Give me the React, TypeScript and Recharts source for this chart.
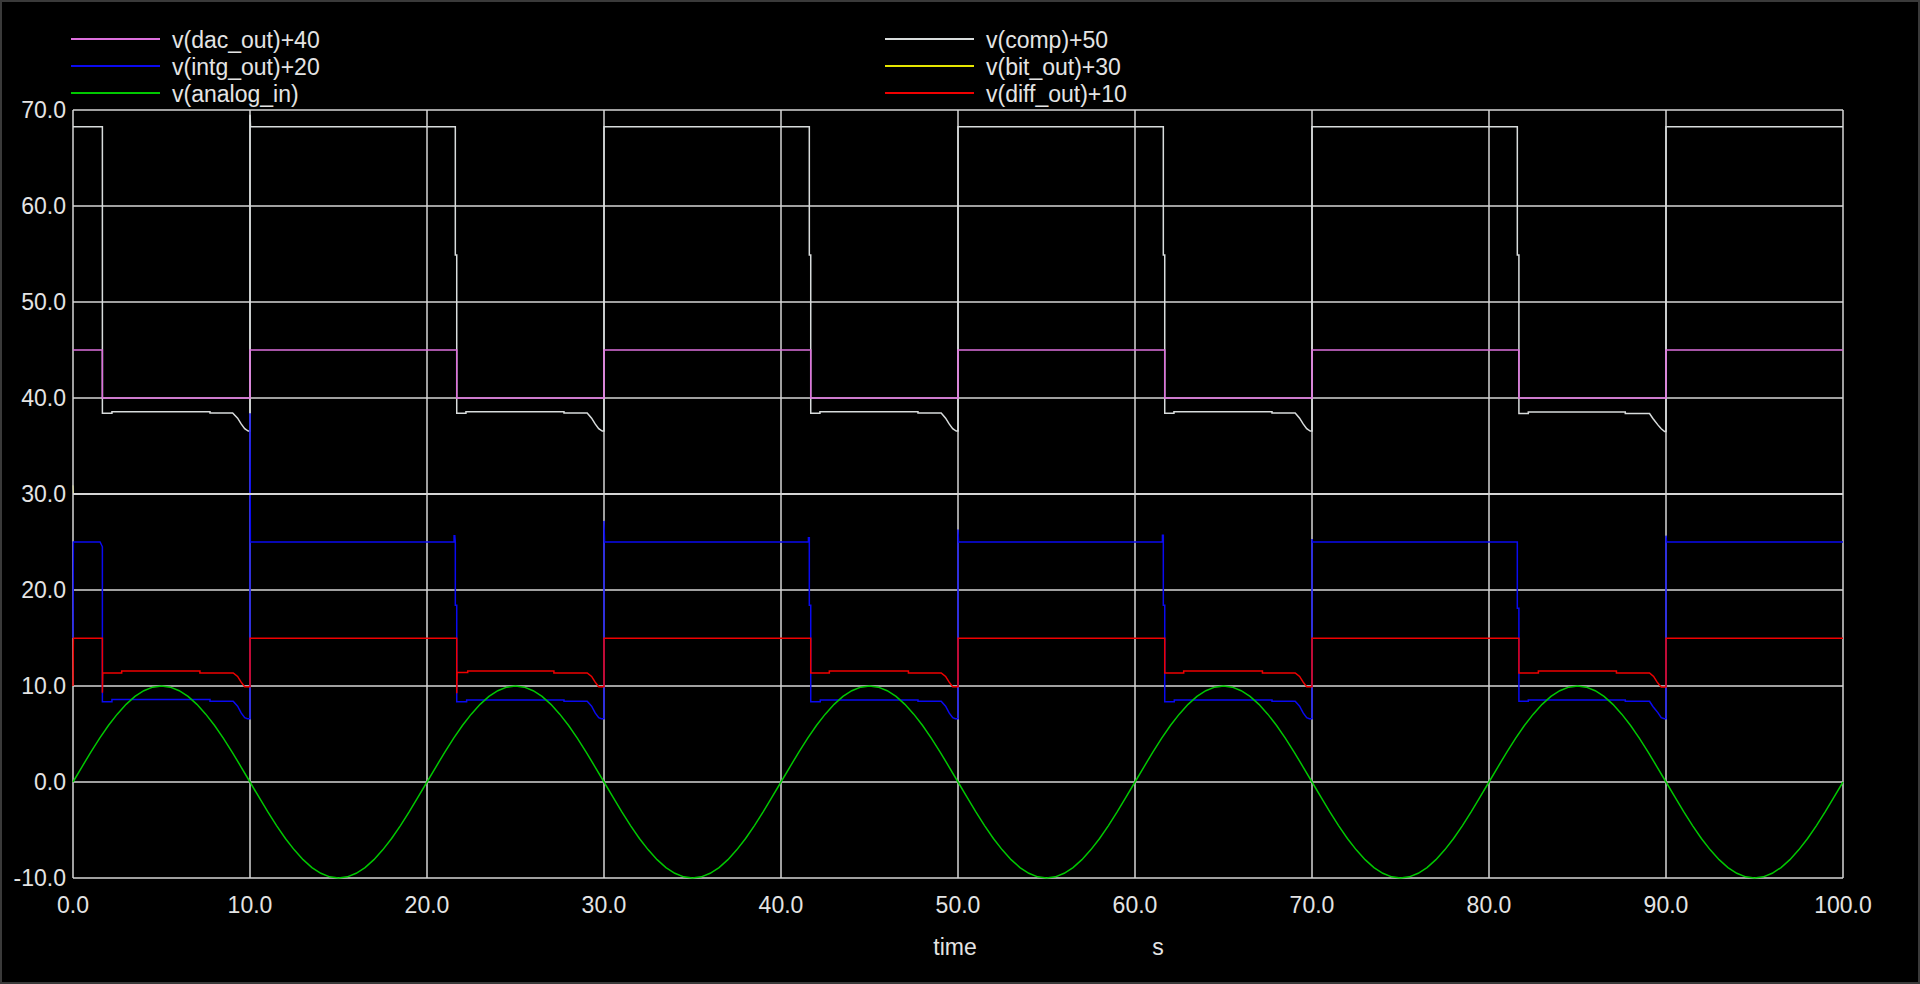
import React from 'react';
import { LineChart, Line, XAxis, YAxis, CartesianGrid, Legend, ReferenceLine } from 'recharts';

// time axis ticks (s) and voltage ticks
const xTicks = [0, 10, 20, 30, 40, 50, 60, 70, 80, 90, 100];
const yTicks = [-10, 0, 10, 20, 30, 40, 50, 60, 70];

// v(analog_in), sampled every 0.5 s
const analogStep = 0.5;
const analogIn = [
  0, 1.56, 3.09, 4.54, 5.88, 7.07, 8.09, 8.91, 9.51, 9.88, 10, 9.88, 9.51, 8.91, 8.09, 7.07, 5.88, 4.54, 3.09, 1.56,
  0, -1.56, -3.09, -4.54, -5.88, -7.07, -8.09, -8.91, -9.51, -9.88, -10, -9.88, -9.51, -8.91, -8.09, -7.07, -5.88, -4.54, -3.09, -1.56,
  0, 1.56, 3.09, 4.54, 5.88, 7.07, 8.09, 8.91, 9.51, 9.88, 10, 9.88, 9.51, 8.91, 8.09, 7.07, 5.88, 4.54, 3.09, 1.56,
  0, -1.56, -3.09, -4.54, -5.88, -7.07, -8.09, -8.91, -9.51, -9.88, -10, -9.88, -9.51, -8.91, -8.09, -7.07, -5.88, -4.54, -3.09, -1.56,
  0, 1.56, 3.09, 4.54, 5.88, 7.07, 8.09, 8.91, 9.51, 9.88, 10, 9.88, 9.51, 8.91, 8.09, 7.07, 5.88, 4.54, 3.09, 1.56,
  0, -1.56, -3.09, -4.54, -5.88, -7.07, -8.09, -8.91, -9.51, -9.88, -10, -9.88, -9.51, -8.91, -8.09, -7.07, -5.88, -4.54, -3.09, -1.56,
  0, 1.56, 3.09, 4.54, 5.88, 7.07, 8.09, 8.91, 9.51, 9.88, 10, 9.88, 9.51, 8.91, 8.09, 7.07, 5.88, 4.54, 3.09, 1.56,
  0, -1.56, -3.09, -4.54, -5.88, -7.07, -8.09, -8.91, -9.51, -9.88, -10, -9.88, -9.51, -8.91, -8.09, -7.07, -5.88, -4.54, -3.09, -1.56,
  0, 1.56, 3.09, 4.54, 5.88, 7.07, 8.09, 8.91, 9.51, 9.88, 10, 9.88, 9.51, 8.91, 8.09, 7.07, 5.88, 4.54, 3.09, 1.56,
  0, -1.56, -3.09, -4.54, -5.88, -7.07, -8.09, -8.91, -9.51, -9.88, -10, -9.88, -9.51, -8.91, -8.09, -7.07, -5.88, -4.54, -3.09, -1.56,
  0,
];

// [time, value] pairs
const dacOut = [
  [0, 45], [1.66, 45], [1.66, 40], [10, 40], [10, 45],
  [21.68, 45], [21.68, 40], [30, 40], [30, 45],
  [41.68, 45], [41.68, 40], [50, 40], [50, 45],
  [61.68, 45], [61.68, 40], [70, 40], [70, 45],
  [81.69, 45], [81.69, 40], [90, 40], [90, 45], [100, 45],
];

const compOut = [
  [0, 68.26], [1.66, 68.26], [1.66, 38.4], [2.2, 38.4], [2.2, 38.57], [7.74, 38.57], [7.74, 38.44], [9.02, 38.44],
  [9.3, 37.9], [9.5, 37.3], [9.7, 36.8], [9.9, 36.56], [10, 36.56], [10, 69.5], [10.03, 68.26],
  [21.6, 68.26], [21.6, 54.9], [21.68, 54.9], [21.68, 38.4], [22.2, 38.4], [22.2, 38.57], [27.74, 38.57], [27.74, 38.44], [29.05, 38.44],
  [29.3, 37.9], [29.5, 37.3], [29.7, 36.8], [29.9, 36.56], [30, 36.56], [30, 68.26],
  [41.6, 68.26], [41.6, 54.9], [41.68, 54.9], [41.68, 38.4], [42.2, 38.4], [42.2, 38.57], [47.74, 38.57], [47.74, 38.44], [49.05, 38.44],
  [49.3, 37.9], [49.5, 37.3], [49.7, 36.8], [49.9, 36.56], [50, 36.56], [50, 68.26],
  [61.6, 68.26], [61.6, 54.9], [61.68, 54.9], [61.68, 38.4], [62.2, 38.4], [62.2, 38.57], [67.74, 38.57], [67.74, 38.44], [69.05, 38.44],
  [69.3, 37.9], [69.5, 37.3], [69.7, 36.8], [69.9, 36.56], [70, 36.56], [70, 68.26],
  [81.6, 68.26], [81.6, 54.9], [81.69, 54.9], [81.69, 38.38], [82.22, 38.38], [82.22, 38.55], [87.7, 38.55], [87.7, 38.38], [89.07, 38.38],
  [89.26, 37.87], [89.54, 37.2], [89.73, 36.8], [89.92, 36.5], [90, 36.5], [90, 68.26], [100, 68.26],
];

const intgOut = [
  [0, 15], [0.02, 25], [1.53, 25], [1.66, 24.5], [1.66, 8.36], [2.2, 8.36], [2.2, 8.6], [7.74, 8.6], [7.74, 8.4], [9.05, 8.4],
  [9.3, 7.9], [9.5, 7.2], [9.7, 6.7], [9.85, 6.6], [10, 6.6], [10, 38.4], [10.02, 25],
  [21.53, 25], [21.53, 25.65], [21.57, 25.65], [21.6, 25], [21.6, 18.4], [21.68, 18.4], [21.68, 8.36], [22.24, 8.36], [22.24, 8.55],
  [27.74, 8.55], [27.74, 8.4], [29.05, 8.4], [29.3, 7.9], [29.5, 7.2], [29.7, 6.7], [29.85, 6.6], [30, 6.6], [30, 27.2], [30.03, 25],
  [41.55, 25], [41.55, 25.45], [41.6, 25.45], [41.6, 18.4], [41.68, 18.4], [41.68, 8.36], [42.22, 8.36], [42.22, 8.55],
  [47.74, 8.55], [47.74, 8.4], [49.05, 8.4], [49.3, 7.9], [49.5, 7.2], [49.7, 6.7], [49.85, 6.6], [50, 6.6], [50, 26.3], [50.03, 25],
  [61.55, 25], [61.55, 25.7], [61.6, 25.7], [61.6, 18.4], [61.68, 18.4], [61.68, 8.36], [62.22, 8.36], [62.22, 8.55],
  [67.74, 8.55], [67.74, 8.4], [69.05, 8.4], [69.3, 7.9], [69.5, 7.2], [69.7, 6.7], [69.85, 6.6], [70, 6.6], [70, 25.3], [70.03, 25],
  [81.6, 25], [81.6, 18.1], [81.69, 18.1], [81.69, 8.4], [82.22, 8.4], [82.22, 8.55], [87.7, 8.55], [87.7, 8.4], [89.07, 8.4],
  [89.26, 7.87], [89.54, 7.23], [89.73, 6.7], [89.92, 6.6], [90, 6.6], [90, 25.66], [90.03, 25], [100, 25],
];

const diffOut = [
  [0, 10], [0.02, 14.97], [1.66, 14.97], [1.66, 9.3], [1.68, 11.36], [2.75, 11.36], [2.75, 11.56], [7.17, 11.56], [7.17, 11.36], [9.05, 11.36],
  [9.3, 11.0], [9.5, 10.4], [9.7, 9.93], [10, 9.93], [10, 14.97],
  [21.68, 14.97], [21.68, 9.24], [21.7, 11.4], [22.3, 11.4], [22.3, 11.56], [27.17, 11.56], [27.17, 11.36], [29.05, 11.36],
  [29.3, 11.0], [29.5, 10.4], [29.7, 9.93], [30, 9.93], [30, 14.97],
  [41.68, 14.97], [41.68, 11.36], [42.73, 11.36], [42.73, 11.57], [47.2, 11.57], [47.2, 11.36], [49.05, 11.36],
  [49.3, 11.0], [49.5, 10.4], [49.7, 9.93], [50, 9.93], [50, 14.97],
  [61.68, 14.97], [61.68, 11.36], [62.75, 11.36], [62.75, 11.57], [67.2, 11.57], [67.2, 11.36], [69.05, 11.36],
  [69.3, 11.0], [69.5, 10.4], [69.7, 9.93], [70, 9.93], [70, 14.97],
  [81.69, 14.97], [81.69, 11.36], [82.79, 11.36], [82.79, 11.57], [87.2, 11.57], [87.2, 11.36], [89.07, 11.36],
  [89.3, 11.0], [89.5, 10.4], [89.73, 9.9], [90, 9.9], [90, 14.97], [100, 14.97],
];

const bitOut = [[0, 30.9], [0.03, 30], [100, 30]];

const toPoints = (pairs: number[][]) => pairs.map(([t, v]) => ({ t, v }));
const analogPoints = analogIn.map((v, i) => ({ t: i * analogStep, v }));

const FONT = '"Liberation Sans", Arial, sans-serif';
const TEXT = '#e4e4e4';
const GRID = '#d6d6d6';

// legend placement: [line start x, row y]
const legendSlots: Record<string, [number, number]> = {
  'v(dac_out)+40': [71, 39],
  'v(intg_out)+20': [71, 66],
  'v(analog_in)': [71, 93],
  'v(comp)+50': [885, 39],
  'v(bit_out)+30': [885, 66],
  'v(diff_out)+10': [885, 93],
};

const renderLegend = (props: any) => (
  <svg width={1920} height={130} style={{ position: 'absolute', left: 0, top: 0, overflow: 'visible' }}>
    {(props.payload || []).map((item: any) => {
      const slot = legendSlots[item.value];
      if (!slot) return null;
      const [lx, ly] = slot;
      return (
        <g key={item.value}>
          <line x1={lx} x2={lx + 89} y1={ly} y2={ly} stroke={item.color} strokeWidth={2} />
          <text x={lx + 101} y={ly + 9} fill={TEXT} fontSize={23} fontFamily={FONT}>
            {item.value}
          </text>
        </g>
      );
    })}
  </svg>
);

const XTick = ({ x, y, payload }: any) => (
  <text x={x} y={y} dy={35} textAnchor="middle" fill={TEXT} fontSize={23} fontFamily={FONT}>
    {Number(payload.value).toFixed(1)}
  </text>
);

const YTick = ({ x, y, payload }: any) => (
  <text x={x} y={y} dy={8} textAnchor="end" fill={TEXT} fontSize={23} fontFamily={FONT}>
    {Number(payload.value).toFixed(1)}
  </text>
);

const AxisTitle = ({ viewBox }: any) => {
  const { x, y } = viewBox;
  return (
    <g>
      <text x={x + 882} y={y + 77} textAnchor="middle" fill={TEXT} fontSize={23} fontFamily={FONT}>
        time
      </text>
      <text x={x + 1085} y={y + 77} textAnchor="middle" fill={TEXT} fontSize={23} fontFamily={FONT}>
        s
      </text>
    </g>
  );
};

export default function App() {
  return (
    <div
      style={{
        position: 'fixed',
        left: 0,
        top: 0,
        width: 1920,
        height: 984,
        background: '#000',
        boxShadow: 'inset 0 0 0 2px #3a3a3a',
      }}
    >
      <LineChart width={1920} height={984} margin={{ top: 110, right: 77, left: 0, bottom: 0 }}>
        <CartesianGrid stroke={GRID} strokeWidth={1.5} fill="none" />
        <XAxis
          type="number"
          dataKey="t"
          domain={[0, 100]}
          ticks={xTicks}
          height={106}
          axisLine={false}
          tickLine={false}
          tickSize={0}
          tickMargin={0}
          tick={<XTick />}
          label={AxisTitle}
        />
        <YAxis
          type="number"
          domain={[-10, 70]}
          ticks={yTicks}
          width={73}
          axisLine={false}
          tickLine={false}
          tickSize={0}
          tickMargin={7}
          tick={<YTick />}
        />
        <Legend verticalAlign="top" content={renderLegend} wrapperStyle={{ left: 0, top: 0, width: 1920, height: 0 }} />
        <Line data={toPoints(bitOut)} dataKey="v" name="v(bit_out)+30" stroke="#e6e600" strokeWidth={1} zIndex={-150} dot={false} isAnimationActive={false} />
        <Line data={toPoints(compOut)} dataKey="v" name="v(comp)+50" stroke="#d8dcdc" strokeWidth={1.5} dot={false} isAnimationActive={false} />
        <Line data={toPoints(dacOut)} dataKey="v" name="v(dac_out)+40" stroke="#dd70dd" strokeWidth={1.5} dot={false} isAnimationActive={false} />
        <Line data={toPoints(intgOut)} dataKey="v" name="v(intg_out)+20" stroke="#0a0af0" strokeWidth={1.5} dot={false} isAnimationActive={false} />
        <Line data={toPoints(diffOut)} dataKey="v" name="v(diff_out)+10" stroke="#f00000" strokeWidth={1.5} dot={false} isAnimationActive={false} />
        <Line data={analogPoints} dataKey="v" name="v(analog_in)" stroke="#00c800" strokeWidth={1.5} dot={false} isAnimationActive={false} />
        <ReferenceLine y={30} stroke={GRID} strokeWidth={2} zIndex={1000} />
      </LineChart>
    </div>
  );
}
